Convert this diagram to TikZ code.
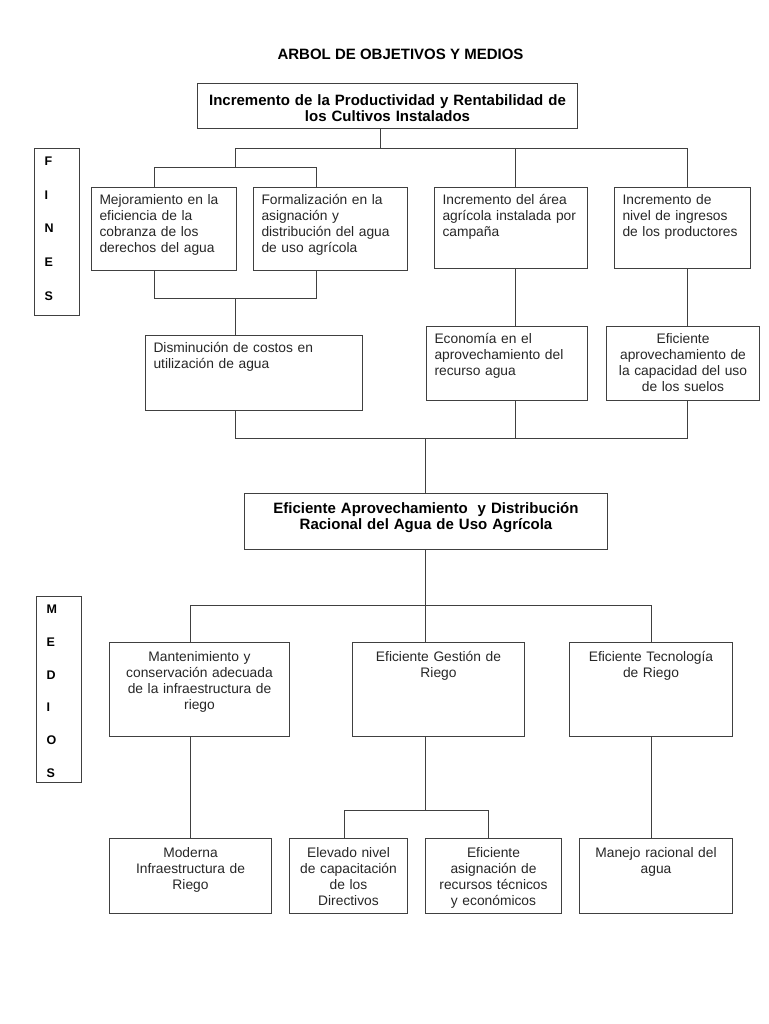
\documentclass[tikz,border=0pt]{standalone}
\usepackage{fontspec}
\setmainfont{Liberation Sans}
\newcommand{\cellfont}{\fontsize{13.8}{16.1}\selectfont}
\newcommand{\headfont}{\fontsize{15}{16}\selectfont\bfseries}
\tikzset{
box/.style={draw=black!75, line width=1pt, anchor=north west, inner xsep=8pt, inner ysep=6pt, text=black!85},
cell/.style={box, font=\cellfont, align=left, text height=11pt},
mcell/.style={box, font=\cellfont, align=center, text height=12.5pt},
head/.style={box, font=\headfont, align=center, text=black},
side/.style={box, align=left, inner xsep=10pt, text height=11pt, text=black, text width=25pt},
lin/.style={draw=black!75, line width=1pt},
}

\begin{document}
\begin{tikzpicture}[x=1pt, y=-1pt]
    \useasboundingbox (0,0) rectangle (768,1024);
    \node[font=\headfont, anchor=base] (title) at (400.5,60) {ARBOL DE OBJETIVOS Y MEDIOS};
    % fines
    \node[side, font={\fontsize{12.5}{33.7}\selectfont\bfseries}, text depth=144pt] (fines) at (34,148) {F\\I\\N\\E\\S};
    \node[head, text width=364pt, text height=16pt, text depth=17pt] (top) at (197,83)
        {Incremento de la Productividad y Rentabilidad de\\los Cultivos Instalados};
    \node[cell, text width=129pt, text depth=60pt] (f1) at (91,187)
        {Mejoramiento en la\\eficiencia de la\\cobranza de los\\derechos del agua};
    \node[cell, text width=138pt, text depth=60pt] (f2) at (253,187)
        {Formalización en la\\asignación y\\distribución del agua\\de uso agrícola};
    \node[cell, text width=137pt, text depth=58pt] (f3) at (434,187)
        {Incremento del área\\agrícola instalada por\\campaña};
    \node[cell, text width=120pt, text depth=58pt] (f4) at (614,187)
        {Incremento de\\nivel de ingresos\\de los productores};
    \node[cell, text width=201pt, text depth=52pt] (g1) at (145,335)
        {Disminución de costos en\\utilización de agua};
    \node[cell, text width=145pt, text depth=51pt] (g2) at (426,326)
        {Economía en el\\aprovechamiento del\\recurso agua};
    \node[mcell, text width=137pt, text height=11pt, text depth=51pt] (g3) at (606,326)
        {Eficiente\\aprovechamiento de\\la capacidad del uso\\de los suelos};
    \node[head, text width=347pt, text height=14pt, text depth=30pt] (mid) at (244,493)
        {Eficiente Aprovechamiento~ y Distribución\\Racional del Agua de Uso Agrícola};
    % medios
    \node[side, font={\fontsize{12.5}{32.8}\selectfont\bfseries}, text depth=163pt] (medios) at (36,596) {M\\E\\D\\I\\O\\S};
    \node[mcell, text width=164pt, text depth=69.5pt] (m1) at (109,642)
        {Mantenimiento y\\conservación adecuada\\de la infraestructura de\\riego};
    \node[mcell, text width=156pt, text depth=69.5pt] (m2) at (352,642)
        {Eficiente Gestión de\\Riego};
    \node[mcell, text width=147pt, text depth=69.5pt] (m3) at (569,642)
        {Eficiente Tecnología\\de Riego};
    \node[mcell, text width=146pt, text depth=50.5pt] (l1) at (109,838)
        {Moderna\\Infraestructura de\\Riego};
    \node[mcell, text width=102pt, text depth=50.5pt] (l2) at (289,838)
        {Elevado nivel\\de capacitación\\de los\\Directivos};
    \node[mcell, text width=120pt, text depth=50.5pt] (l3) at (425,838)
        {Eficiente\\asignación de\\recursos técnicos\\y económicos};
    \node[mcell, text width=137pt, text depth=50.5pt] (l4) at (579,838)
        {Manejo racional del\\agua};

    % junctions
    \coordinate (u0) at (380,149);
    \coordinate (u1) at (235,149);
    \coordinate (u2) at (515,149);
    \coordinate (u3) at (687,149);
    \coordinate (v0) at (235,168);
    \coordinate (v1) at (154,168);
    \coordinate (v2) at (316,168);
    \coordinate (w0) at (235,298);
    \coordinate (w1) at (154,298);
    \coordinate (w2) at (316,298);
    \coordinate (x0) at (425,438);
    \coordinate (x1) at (235,438);
    \coordinate (x3) at (687,438);
    \coordinate (y0) at (425,605);
    \coordinate (y1) at (190,605);
    \coordinate (y3) at (651,605);
    \coordinate (z0) at (425,810);
    \coordinate (z1) at (344,810);
    \coordinate (z2) at (488,810);

    \draw[lin] (top.south -| u0) -- (u0);
    \draw[lin] (f4.north -| u3) -- (u3) -- (u1) -- (v0);
    \draw[lin] (u2) -- (f3.north -| u2);
    \draw[lin] (f1.north -| v1) -- (v1) -- (v2) -- (f2.north -| v2);
    \draw[lin] (f1.south -| w1) -- (w1) -- (w2) -- (f2.south -| w2);
    \draw[lin] (w0) -- (g1.north -| w0);
    \draw[lin] (f3.south -| u2) -- (g2.north -| u2);
    \draw[lin] (f4.south -| u3) -- (g3.north -| u3);
    \draw[lin] (g1.south -| x1) -- (x1) -- (x3) -- (g3.south -| x3);
    \draw[lin] (g2.south -| u2) -- (u2 |- x0);
    \draw[lin] (x0) -- (mid.north -| x0);
    \draw[lin] (mid.south -| y0) -- (y0);
    \draw[lin] (m1.north -| y1) -- (y1) -- (y3) -- (m3.north -| y3);
    \draw[lin] (y0) -- (m2.north -| y0);
    \draw[lin] (m1.south -| y1) -- (l1.north -| y1);
    \draw[lin] (m3.south -| y3) -- (l4.north -| y3);
    \draw[lin] (m2.south -| z0) -- (z0);
    \draw[lin] (l2.north -| z1) -- (z1) -- (z2) -- (l3.north -| z2);
\end{tikzpicture}
\end{document}
